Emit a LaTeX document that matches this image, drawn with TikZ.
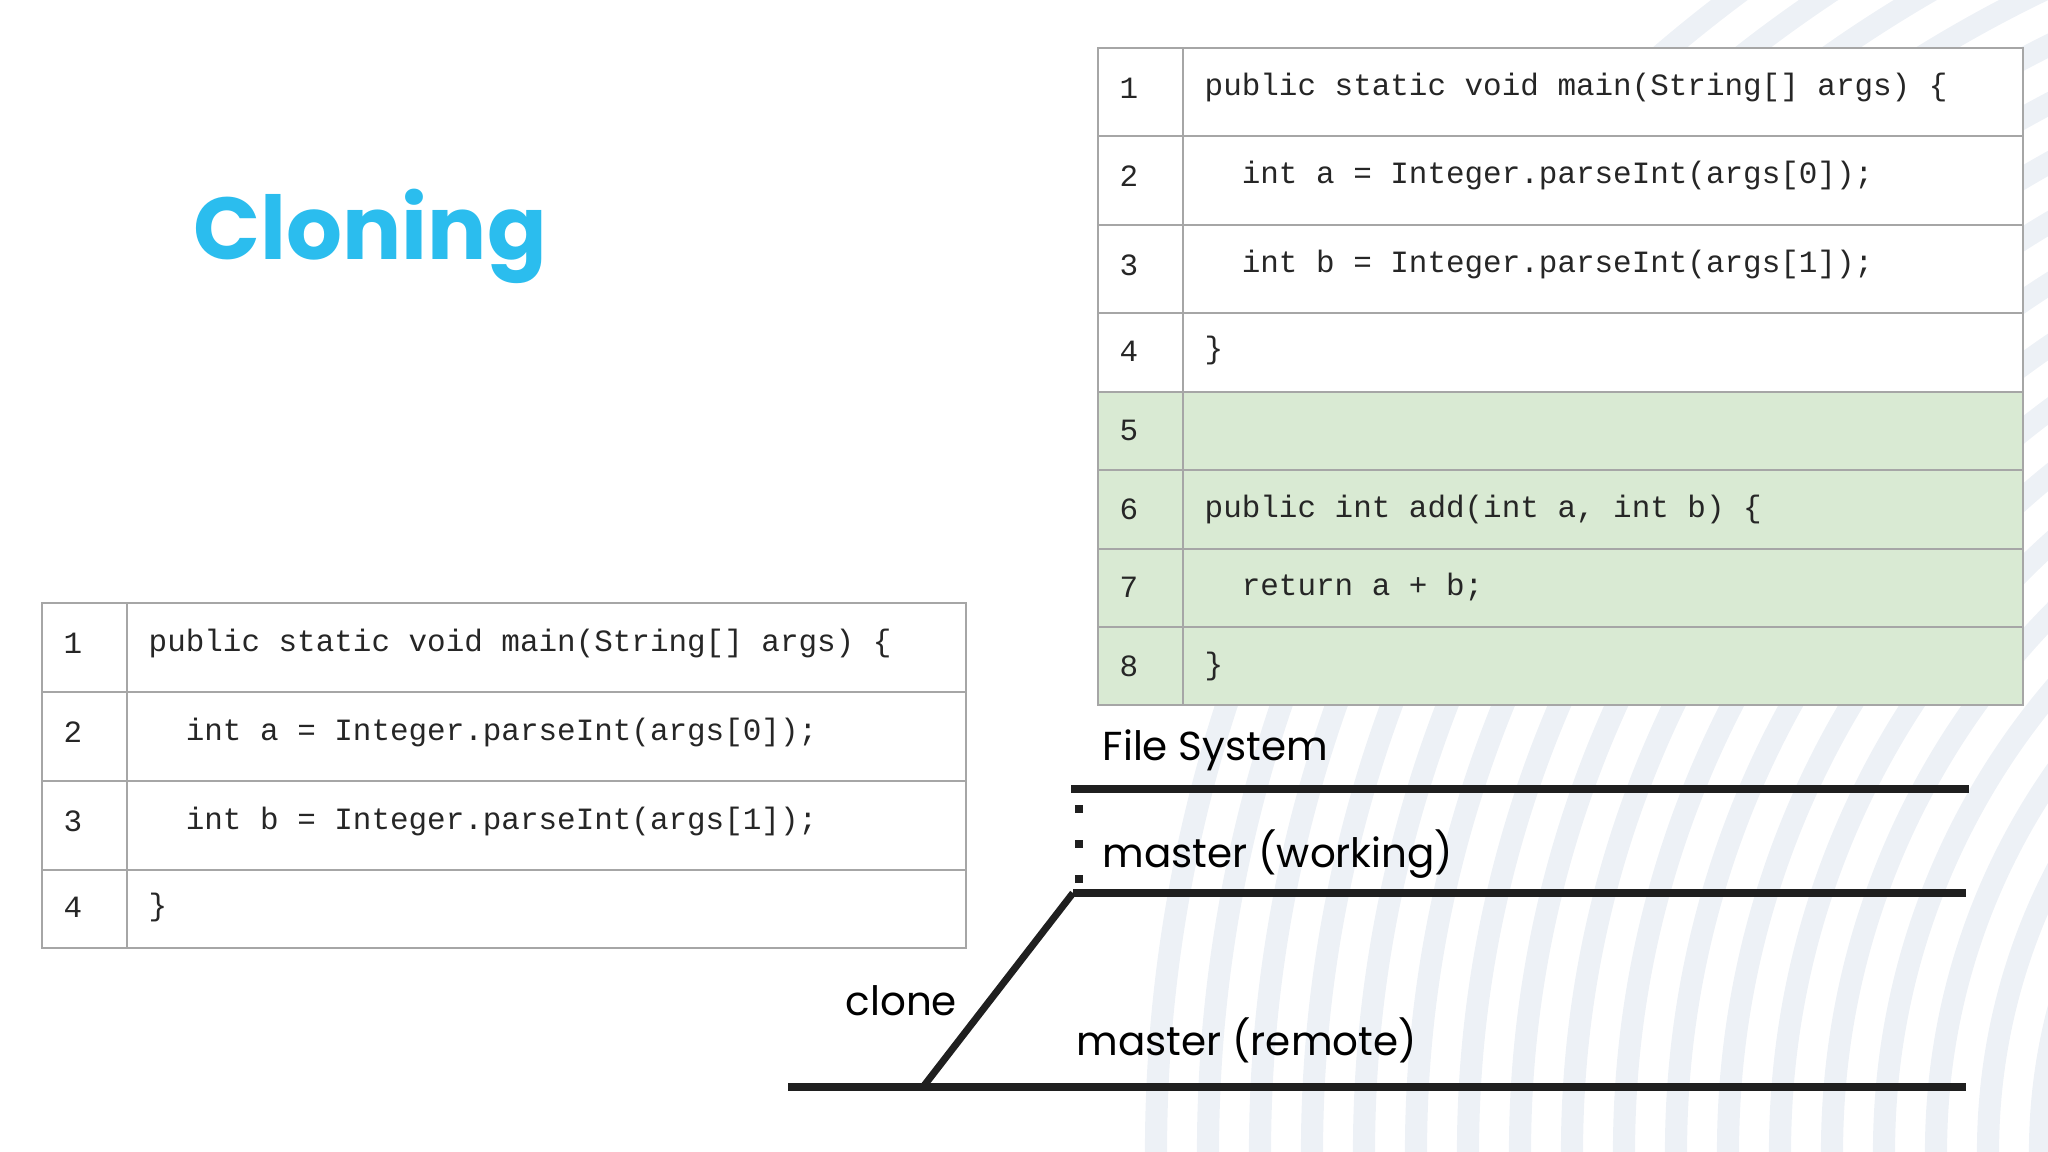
\documentclass[tikz,border=0pt]{standalone}
\usepackage{fontspec}
\setmainfont{Poppins}
\setmonofont{Liberation Mono}
\usetikzlibrary{positioning}
\definecolor{titleblue}{HTML}{2BBDEE}
\definecolor{cellgray}{HTML}{A6A6A6}
\definecolor{addgreen}{HTML}{D9EAD3}
\definecolor{stripeblue}{HTML}{EDF1F6}
\tikzset{
  codetext/.style={anchor=west, inner sep=0pt, text=black!85, font=\fontsize{8.8}{10}\ttfamily},
  lineno/.style={anchor=west, inner sep=0pt, text=black!85, font=\fontsize{8.8}{10}\ttfamily},
  cellline/.style={draw=cellgray, line width=0.6pt},
  branch/.style={line width=2pt, black!88},
  branchlabel/.style={anchor=base west, inner sep=0pt, font=\fontsize{11.5}{14}\selectfont},
}
\begin{document}
\begin{tikzpicture}[x=0.01cm, y=-0.01cm]
\useasboundingbox (0,0) rectangle (2048,1152);
% background arcs
\begin{scope}
  \clip (0,0) rectangle (2048,1152);
  \foreach \r in {560,612,...,1460}
    \draw[stripeblue, line width=6.3pt] (2600,1152) circle (\r);
\end{scope}

% title
\node[anchor=base west, inner sep=0pt, text=titleblue, font=\fontsize{25}{30}\selectfont\bfseries] (title) at (193,260) {Cloning};

% left table: the cloned file
\fill[white] (42,603) rectangle (966,948);
\draw[cellline] (42,603) rectangle (966,948);
\draw[cellline] (127,603) -- (127,948);
\foreach \y in {692,781,870}
  \draw[cellline] (42,\y) -- (966,\y);
\node[lineno] (l1n) at (63,643) {1};
\node[codetext] (l1c) at (148,643) {public static void main(String[] args) \{};
\node[lineno] (l2n) at (63,732) {2};
\node[codetext] (l2c) at (148,732) {\ \ int a = Integer.parseInt(args[0]);};
\node[lineno] (l3n) at (63,821) {3};
\node[codetext] (l3c) at (148,821) {\ \ int b = Integer.parseInt(args[1]);};
\node[lineno] (l4n) at (63,907) {4};
\node[codetext] (l4c) at (148,907) {\}};

% right table: the working copy with new lines
\fill[white] (1098,48) rectangle (2023,392);
\fill[addgreen] (1098,392) rectangle (2023,705);
\draw[cellline] (1098,48) rectangle (2023,705);
\draw[cellline] (1183,48) -- (1183,705);
\foreach \y in {136,225,313,392,470,549,627}
  \draw[cellline] (1098,\y) -- (2023,\y);
\node[lineno] (r1n) at (1119,88) {1};
\node[codetext] (r1c) at (1204,88) {public static void main(String[] args) \{};
\node[lineno] (r2n) at (1119,176) {2};
\node[codetext] (r2c) at (1204,176) {\ \ int a = Integer.parseInt(args[0]);};
\node[lineno] (r3n) at (1119,265) {3};
\node[codetext] (r3c) at (1204,265) {\ \ int b = Integer.parseInt(args[1]);};
\node[lineno] (r4n) at (1119,351) {4};
\node[codetext] (r4c) at (1204,351) {\}};
\node[lineno] (r5n) at (1119,430) {5};
\node[lineno] (r6n) at (1119,509) {6};
\node[codetext] (r6c) at (1204,509) {public int add(int a, int b) \{};
\node[lineno] (r7n) at (1119,587) {7};
\node[codetext] (r7c) at (1204,587) {\ \ return a + b;};
\node[lineno] (r8n) at (1119,666) {8};
\node[codetext] (r8c) at (1204,666) {\}};

% branches
\node[branchlabel] (fs) at (1102,760) {File System};
\node[branchlabel] (working) at (1102,867) {master (working)};
\node[branchlabel] (remote) at (1076,1055) {master (remote)};
\node[branchlabel] (clonelbl) at (845,1015) {clone};
\coordinate (fsstart) at (1071,789);
\coordinate (fsend) at (1969,789);
\coordinate (wstart) at (1073,893);
\coordinate (wend) at (1966,893);
\coordinate (rstart) at (788,1087);
\coordinate (rend) at (1966,1087);
\coordinate (fork) at (923,1087);
\coordinate (gaptop) at (1079,805);
\coordinate (gapbot) at (1079,883);
\draw[branch] (fsstart) -- (fsend);
\draw[branch] (wstart) -- (wend);
\draw[branch] (rstart) -- (rend);
\draw[branch] (fork) -- (wstart);
\draw[branch, dash pattern=on 2.3pt off 7.7pt] (gaptop) -- (gapbot);
\end{tikzpicture}
\end{document}
